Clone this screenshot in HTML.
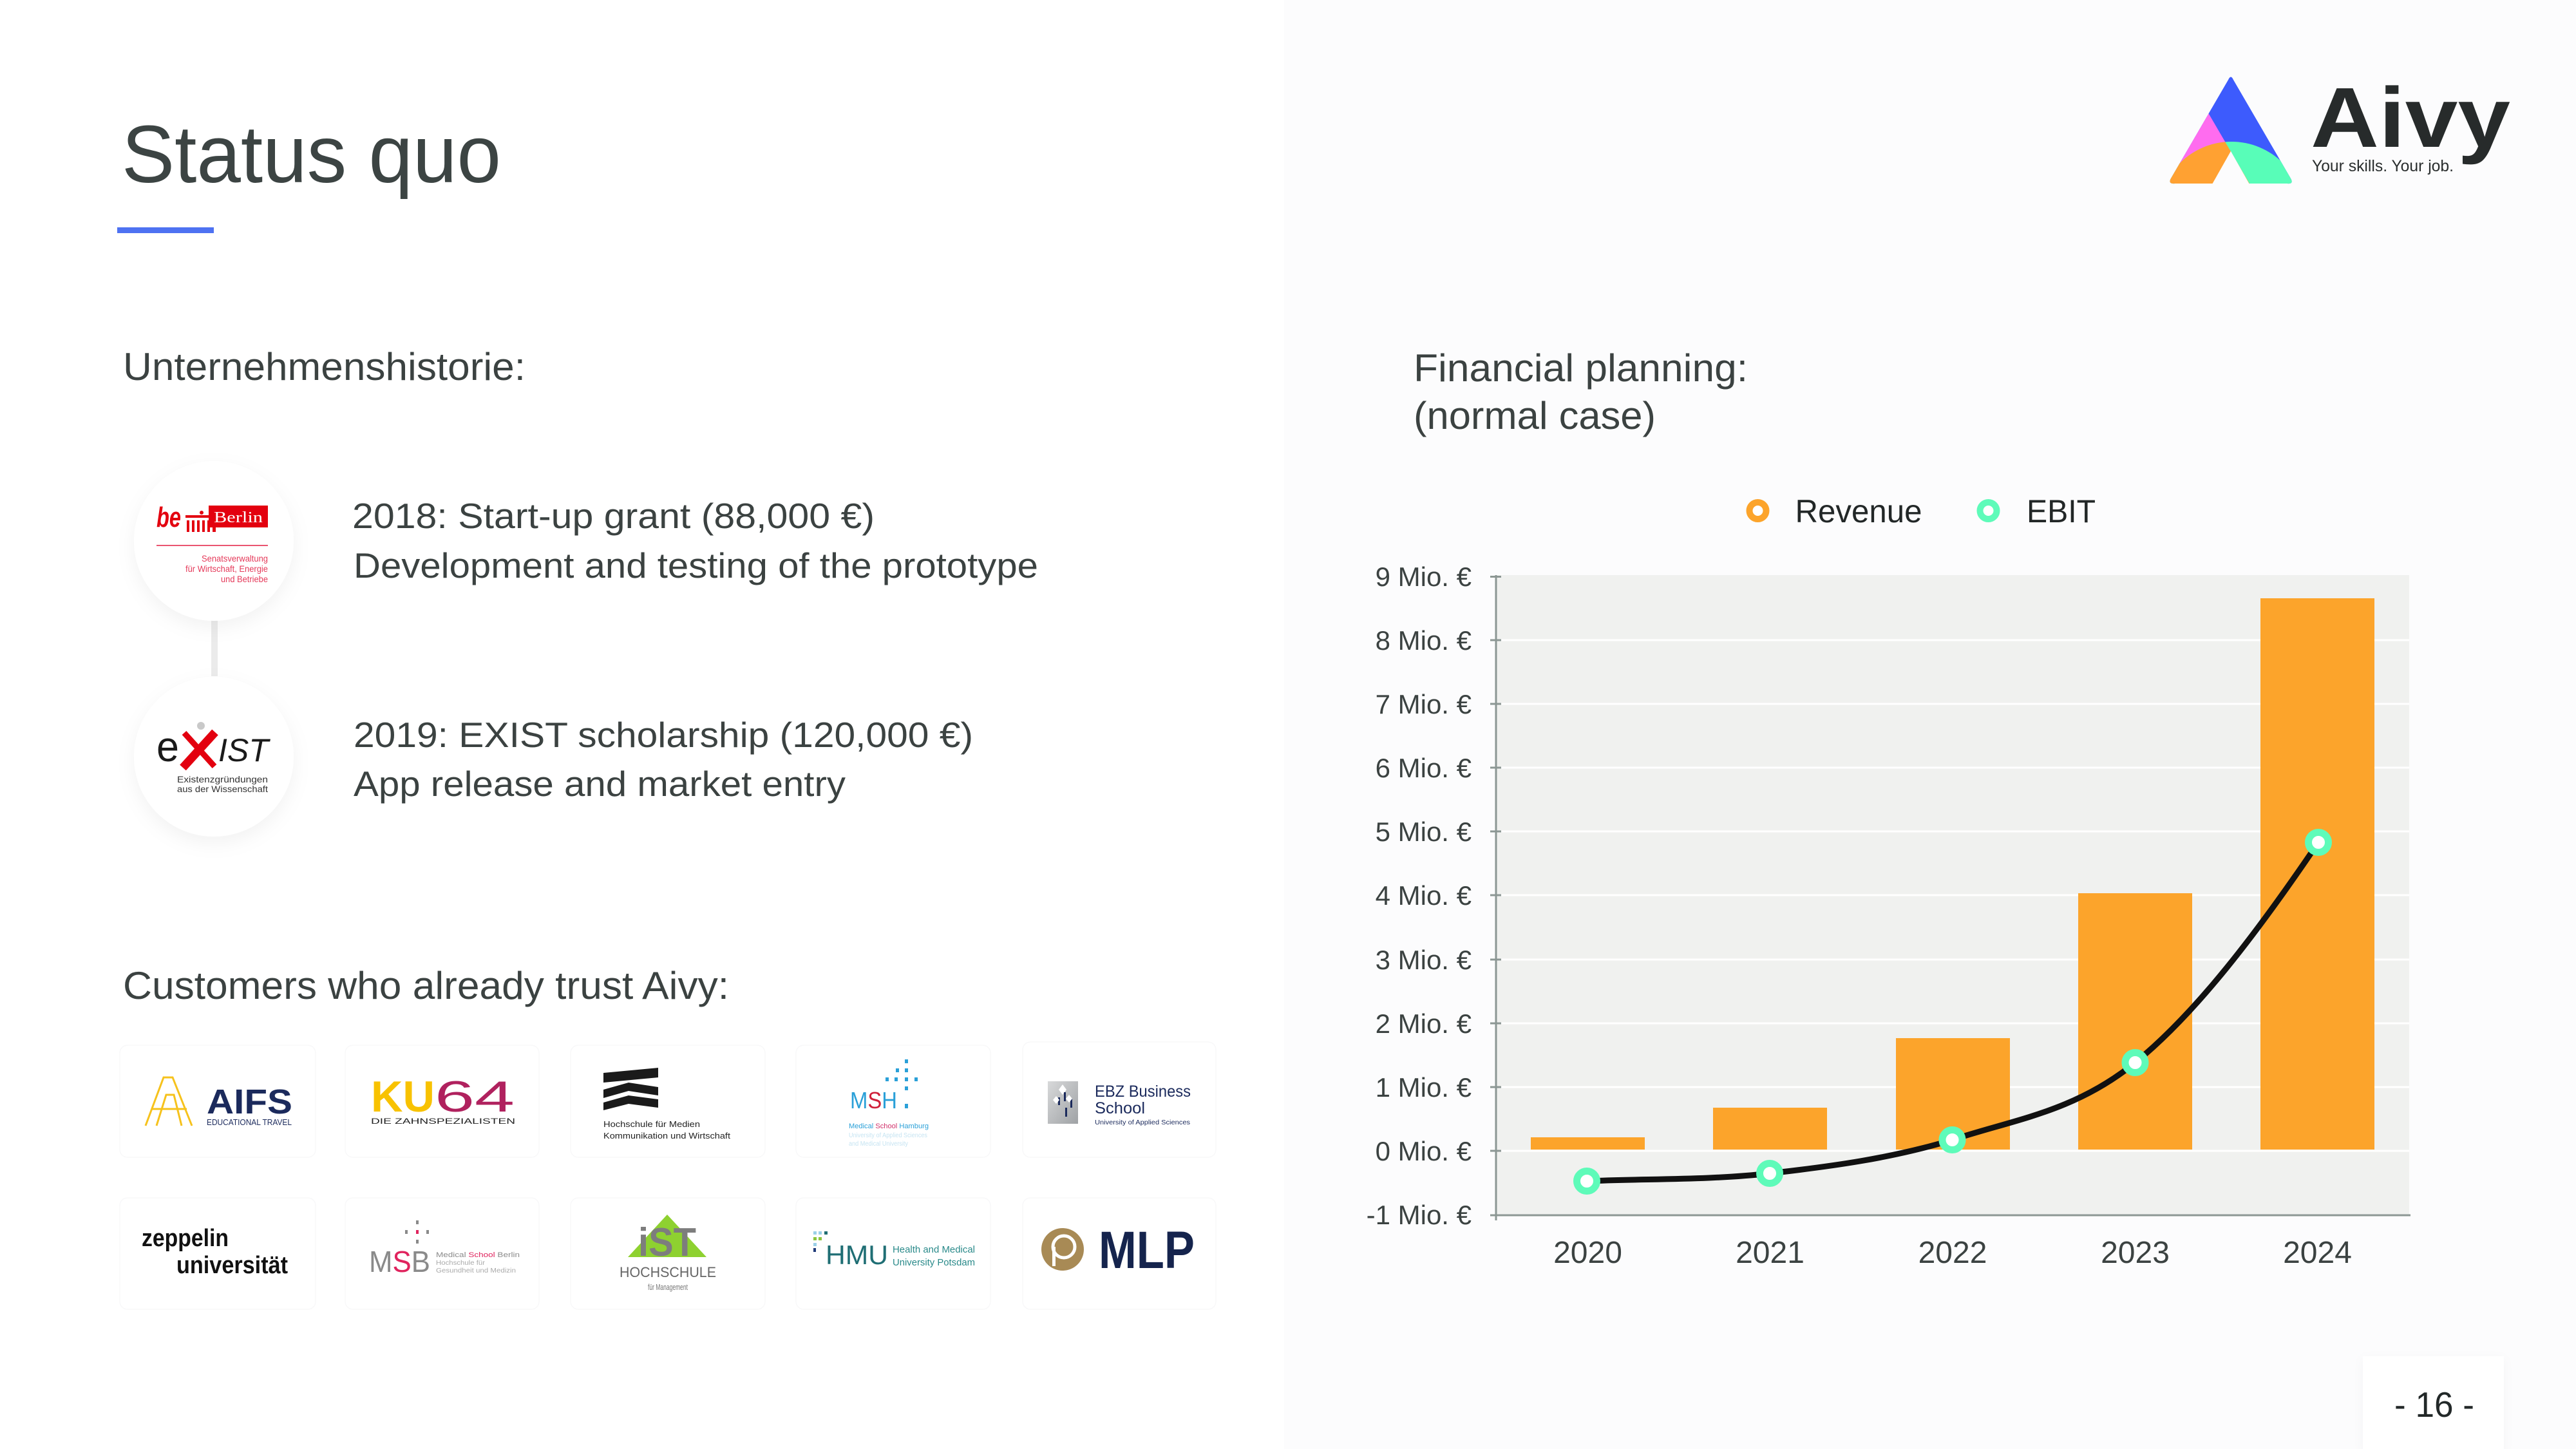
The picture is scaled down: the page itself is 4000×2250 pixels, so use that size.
<!DOCTYPE html>
<html>
<head>
<meta charset="utf-8">
<style>
  html,body{margin:0;padding:0;background:#ffffff;}
  svg{display:block;}
  text{font-family:"Liberation Sans", Arial, sans-serif;}
</style>
</head>
<body>
<svg width="4000" height="2250" viewBox="0 0 4000 2250" xmlns="http://www.w3.org/2000/svg">
  <defs>
    <filter id="sh" x="-30%" y="-30%" width="160%" height="170%">
      <feDropShadow dx="0" dy="10" stdDeviation="14" flood-color="#000" flood-opacity="0.05"/>
    </filter>
    <filter id="sh2" x="-10%" y="-10%" width="120%" height="130%">
      <feDropShadow dx="0" dy="4" stdDeviation="8" flood-color="#000" flood-opacity="0.03"/>
    </filter>
    <clipPath id="tri">
      <path d="M3460,124 Q3464,115 3468,124 L3557,277 Q3562,286 3552,285 L3377,285 Q3366,286 3371,277 Z"/>
    </clipPath>
    <clipPath id="leftL">
      <polygon points="3385,100 3493,285 3300,285 3300,100"/>
    </clipPath>
    <linearGradient id="ebzg" x1="0" y1="0" x2="1" y2="1">
      <stop offset="0" stop-color="#d8d9da"/><stop offset="1" stop-color="#9fa2a5"/>
    </linearGradient>
  </defs>

  <!-- backgrounds -->
  <rect x="0" y="0" width="4000" height="2250" fill="#ffffff"/>
  <rect x="1994" y="0" width="2006" height="2250" fill="#fcfcfd"/>

  <!-- Title -->
  <text x="189" y="283" font-size="126" fill="#3c4443" textLength="589" lengthAdjust="spacingAndGlyphs">Status quo</text>
  <rect x="182" y="353" width="150" height="9" fill="#4e72f2"/>

  <!-- Left headings -->
  <text x="191" y="590" font-size="60" fill="#3b4241" textLength="625" lengthAdjust="spacingAndGlyphs">Unternehmenshistorie:</text>

  <!-- History circles -->
  <rect x="328" y="955" width="10" height="95" fill="#ebebeb"/>
  <circle cx="332" cy="840" r="124" fill="#ffffff" filter="url(#sh)"/>
  <circle cx="332" cy="1175" r="124" fill="#ffffff" filter="url(#sh)"/>

  <!-- Berlin logo -->
  <text x="243" y="818" font-size="44" font-weight="bold" font-style="italic" fill="#e3000f" textLength="38" lengthAdjust="spacingAndGlyphs">be</text>
  <circle cx="313" cy="796" r="3" fill="#e3000f"/>
  <rect x="288" y="800" width="40" height="4" fill="#e3000f"/>
  <rect x="290" y="808" width="4" height="18" fill="#e3000f"/>
  <rect x="298" y="808" width="4" height="18" fill="#e3000f"/>
  <rect x="306" y="808" width="4" height="18" fill="#e3000f"/>
  <rect x="314" y="808" width="4" height="18" fill="#e3000f"/>
  <rect x="322" y="808" width="4" height="18" fill="#e3000f"/>
  <rect x="330" y="808" width="5" height="18" fill="#e3000f"/>
  <rect x="324" y="785" width="92" height="34" fill="#e3000f"/>
  <text x="332" y="811" font-size="24" fill="#ffffff" textLength="76" lengthAdjust="spacingAndGlyphs" style="font-family:'Liberation Serif',serif">Berlin</text>
  <rect x="243" y="846" width="173" height="2" fill="#ea5570"/>
  <text x="416" y="872" font-size="14" fill="#e53a5a" text-anchor="end" textLength="103" lengthAdjust="spacingAndGlyphs">Senatsverwaltung</text>
  <text x="416" y="888" font-size="14" fill="#e53a5a" text-anchor="end" textLength="128" lengthAdjust="spacingAndGlyphs">für Wirtschaft, Energie</text>
  <text x="416" y="904" font-size="14" fill="#e53a5a" text-anchor="end" textLength="73" lengthAdjust="spacingAndGlyphs">und Betriebe</text>

  <!-- EXIST logo -->
  <circle cx="312" cy="1127" r="6" fill="#c9c9c9"/>
  <text x="243" y="1182" font-size="66" fill="#1a1a1a" textLength="35" lengthAdjust="spacingAndGlyphs">e</text>
  <line x1="286" y1="1138" x2="333" y2="1190" stroke="#e3000f" stroke-width="9"/>
  <line x1="284" y1="1192" x2="334" y2="1137" stroke="#e3000f" stroke-width="13"/>
  <text x="339" y="1182" font-size="50" font-style="italic" fill="#1a1a1a" textLength="78" lengthAdjust="spacingAndGlyphs">IST</text>
  <text x="275" y="1215" font-size="14" fill="#333" textLength="141" lengthAdjust="spacingAndGlyphs">Existenzgründungen</text>
  <text x="275" y="1230" font-size="14" fill="#333" textLength="141" lengthAdjust="spacingAndGlyphs">aus der Wissenschaft</text>

  <!-- History text -->
  <text x="547" y="820" font-size="55" fill="#3b4241" textLength="811" lengthAdjust="spacingAndGlyphs">2018: Start-up grant (88,000 €)</text>
  <text x="549" y="897" font-size="55" fill="#3b4241" textLength="1063" lengthAdjust="spacingAndGlyphs">Development and testing of the prototype</text>
  <text x="549" y="1160" font-size="55" fill="#3b4241" textLength="962" lengthAdjust="spacingAndGlyphs">2019: EXIST scholarship (120,000 €)</text>
  <text x="549" y="1236" font-size="55" fill="#3b4241" textLength="764" lengthAdjust="spacingAndGlyphs">App release and market entry</text>

  <!-- Customers -->
  <text x="191" y="1551" font-size="60" fill="#3b4241" textLength="941" lengthAdjust="spacingAndGlyphs">Customers who already trust Aivy:</text>

  <!-- cards (very faint) -->
  <g fill="none" stroke="#f8f8f9" stroke-width="1.5">
    <rect x="186" y="1623" width="304" height="174" rx="12"/>
    <rect x="536" y="1623" width="301" height="174" rx="12"/>
    <rect x="886" y="1623" width="302" height="174" rx="12"/>
    <rect x="1236" y="1623" width="302" height="174" rx="12"/>
    <rect x="1588" y="1618" width="300" height="179" rx="12"/>
    <rect x="186" y="1860" width="304" height="173" rx="12"/>
    <rect x="536" y="1860" width="301" height="173" rx="12"/>
    <rect x="886" y="1860" width="302" height="173" rx="12"/>
    <rect x="1236" y="1860" width="302" height="173" rx="12"/>
    <rect x="1588" y="1860" width="300" height="173" rx="12"/>
  </g>

  <!-- AIFS -->
  <g fill="none" stroke="#f6c21c" stroke-width="3">
    <path d="M226,1748 L254,1673 L268,1673 L298,1748"/>
    <path d="M243,1748 L258,1700 L270,1700 L282,1748"/>
    <path d="M236,1722 L290,1722"/>
  </g>
  <text x="321" y="1729" font-size="54" font-weight="bold" fill="#1b2a5c" textLength="133" lengthAdjust="spacingAndGlyphs">AIFS</text>
  <text x="321" y="1747" font-size="13" fill="#1b2a5c" textLength="132" lengthAdjust="spacingAndGlyphs">EDUCATIONAL TRAVEL</text>

  <!-- KU64 -->
  <text x="576" y="1726" font-size="68" font-weight="bold" fill="#f8c200" textLength="99" lengthAdjust="spacingAndGlyphs">KU</text>
  <text x="675" y="1726" font-size="68" fill="#b0215e" textLength="124" lengthAdjust="spacingAndGlyphs">64</text>
  <text x="576" y="1745" font-size="12" fill="#222" textLength="224" lengthAdjust="spacingAndGlyphs">DIE  ZAHNSPEZIALISTEN</text>

  <!-- HMKW -->
  <g fill="#1a1a1a">
    <polygon points="937,1666 1022,1658 1022,1673 937,1681"/>
    <polygon points="937,1692 976,1681 1022,1688 1022,1701 976,1694 937,1705"/>
    <polygon points="937,1712 976,1701 1022,1707 1022,1720 976,1714 937,1724"/>
  </g>
  <text x="937" y="1750" font-size="13" fill="#222" textLength="150" lengthAdjust="spacingAndGlyphs">Hochschule für Medien</text>
  <text x="937" y="1768" font-size="13" fill="#222" textLength="197" lengthAdjust="spacingAndGlyphs">Kommunikation und Wirtschaft</text>

  <!-- MSH -->
  <g fill="#2aa0d8">
    <rect x="1405" y="1645" width="5" height="6"/>
    <rect x="1391" y="1659" width="5" height="6"/><rect x="1405" y="1659" width="5" height="6"/>
    <rect x="1375" y="1673" width="5" height="6"/><rect x="1389" y="1673" width="5" height="6"/><rect x="1405" y="1673" width="5" height="6"/><rect x="1420" y="1673" width="5" height="6"/>
    <rect x="1405" y="1687" width="5" height="6"/>
    <rect x="1405" y="1714" width="5" height="7"/>
  </g>
  <text x="1320" y="1721" font-size="36" fill="#2aa0d8" textLength="73" lengthAdjust="spacingAndGlyphs">M<tspan fill="#d0203a">S</tspan>H</text>
  <text x="1318" y="1752" font-size="11" fill="#2aa0d8" textLength="124" lengthAdjust="spacingAndGlyphs">Medical <tspan fill="#d0306a">School</tspan> Hamburg</text>
  <text x="1318" y="1766" font-size="10" fill="#c6e4f2" textLength="122" lengthAdjust="spacingAndGlyphs">University of Applied Sciences</text>
  <text x="1318" y="1779" font-size="10" fill="#c6e4f2" textLength="92" lengthAdjust="spacingAndGlyphs">and Medical University</text>

  <!-- EBZ -->
  <rect x="1627" y="1679" width="47" height="66" fill="url(#ebzg)"/>
  <g fill="#1b2a5c">
    <polygon points="1650,1684 1656,1692 1650,1700 1644,1692" fill="#ffffff"/>
    <rect x="1652" y="1696" width="3" height="14"/>
    <rect x="1643" y="1704" width="3" height="12"/>
    <rect x="1662" y="1706" width="3" height="14"/>
    <rect x="1654" y="1720" width="3" height="14"/>
    <polygon points="1640,1702 1645,1708 1640,1714 1635,1708" fill="#ffffff"/>
    <polygon points="1660,1700 1665,1706 1660,1712 1655,1706" fill="#ffffff"/>
  </g>
  <text x="1700" y="1703" font-size="25" fill="#1b2a5c" textLength="149" lengthAdjust="spacingAndGlyphs">EBZ Business</text>
  <text x="1700" y="1729" font-size="25" fill="#1b2a5c" textLength="78" lengthAdjust="spacingAndGlyphs">School</text>
  <text x="1700" y="1746" font-size="10" fill="#1b2a5c" textLength="148" lengthAdjust="spacingAndGlyphs">University of Applied Sciences</text>

  <!-- zeppelin -->
  <text x="220" y="1935" font-size="38" font-weight="bold" fill="#111" textLength="135" lengthAdjust="spacingAndGlyphs">zeppelin</text>
  <text x="274" y="1977" font-size="38" font-weight="bold" fill="#111" textLength="173" lengthAdjust="spacingAndGlyphs">universität</text>

  <!-- MSB -->
  <g fill="#8a8a8a">
    <rect x="646" y="1895" width="4" height="6"/>
    <rect x="629" y="1910" width="4" height="6"/>
    <rect x="646" y="1910" width="4" height="6" fill="#e0245e"/>
    <rect x="662" y="1910" width="4" height="6"/>
    <rect x="646" y="1925" width="4" height="6"/>
  </g>
  <text x="573" y="1975" font-size="46" fill="#8a8a8a" textLength="95" lengthAdjust="spacingAndGlyphs">M<tspan fill="#e0245e">S</tspan>B</text>
  <text x="677" y="1952" font-size="11" fill="#8a8a8a" textLength="130" lengthAdjust="spacingAndGlyphs">Medical <tspan fill="#e0245e">School</tspan> Berlin</text>
  <text x="677" y="1964" font-size="10" fill="#aaaaaa" textLength="76" lengthAdjust="spacingAndGlyphs">Hochschule für</text>
  <text x="677" y="1976" font-size="10" fill="#aaaaaa" textLength="124" lengthAdjust="spacingAndGlyphs">Gesundheit und Medizin</text>

  <!-- IST -->
  <polygon points="975,1952 1036,1886 1097,1952" fill="#8ed130"/>
  <text x="1036" y="1950" font-size="62" font-weight="bold" fill="#7d7d7d" text-anchor="middle" textLength="90" lengthAdjust="spacingAndGlyphs">iST</text>
  <text x="962" y="1983" font-size="22" fill="#666" textLength="150" lengthAdjust="spacingAndGlyphs">HOCHSCHULE</text>
  <text x="1037" y="2003" font-size="13" fill="#777" text-anchor="middle" textLength="62" lengthAdjust="spacingAndGlyphs">für Management</text>

  <!-- HMU -->
  <g>
    <rect x="1263" y="1912" width="5" height="5" fill="#9bd0e8"/><rect x="1271" y="1912" width="5" height="5" fill="#9bd0e8"/><rect x="1280" y="1912" width="5" height="5" fill="#1f6e74"/>
    <rect x="1263" y="1921" width="5" height="5" fill="#8cc63f"/><rect x="1271" y="1921" width="5" height="5" fill="#8cc63f"/>
    <rect x="1263" y="1930" width="5" height="5" fill="#9bd0e8"/>
    <rect x="1263" y="1938" width="4" height="6" fill="#1f3a78"/>
  </g>
  <text x="1282" y="1963" font-size="42" fill="#1f6e74" textLength="97" lengthAdjust="spacingAndGlyphs">HMU</text>
  <text x="1386" y="1945" font-size="15" fill="#2a8a8a" textLength="128" lengthAdjust="spacingAndGlyphs">Health and Medical</text>
  <text x="1386" y="1965" font-size="15" fill="#2a8a8a" textLength="128" lengthAdjust="spacingAndGlyphs">University Potsdam</text>

  <!-- MLP -->
  <circle cx="1650" cy="1940" r="33" fill="#a88a55"/>
  <circle cx="1652" cy="1936" r="17" fill="none" stroke="#ffffff" stroke-width="5"/>
  <rect x="1634" y="1936" width="5" height="30" fill="#ffffff"/>
  <text x="1706" y="1969" font-size="82" font-weight="bold" fill="#15244d" textLength="149" lengthAdjust="spacingAndGlyphs">MLP</text>

  <!-- Aivy logo -->
  <g clip-path="url(#tri)">
    <rect x="3360" y="110" width="210" height="180" fill="#3d5bfd"/>
    <g clip-path="url(#leftL)">
      <rect x="3300" y="100" width="200" height="190" fill="#ff6cef"/>
    </g>
    <circle cx="3465" cy="333" r="113" fill="#58fdb8"/>
    <g clip-path="url(#leftL)">
      <circle cx="3465" cy="333" r="113" fill="#ffa132"/>
    </g>
  </g>
  <polygon points="3435,286 3464,234.7 3493,286" fill="#fcfcfd"/>
  <text x="3588" y="228" font-size="132" font-weight="bold" fill="#272b2b" textLength="310" lengthAdjust="spacingAndGlyphs">Aivy</text>
  <text x="3590" y="266" font-size="25" fill="#2a2e2e" textLength="220" lengthAdjust="spacingAndGlyphs">Your skills. Your job.</text>

  <!-- Financial planning heading -->
  <text x="2195" y="592" font-size="60" fill="#3b4241" textLength="519" lengthAdjust="spacingAndGlyphs">Financial planning:</text>
  <text x="2195" y="666" font-size="60" fill="#3b4241" textLength="376" lengthAdjust="spacingAndGlyphs">(normal case)</text>

  <!-- Legend -->
  <circle cx="2729.5" cy="793" r="13" fill="#ffffff" stroke="#fca42b" stroke-width="10"/>
  <text x="2787.5" y="811" font-size="50" fill="#222727" textLength="197" lengthAdjust="spacingAndGlyphs">Revenue</text>
  <circle cx="3087.5" cy="793" r="13" fill="#ffffff" stroke="#5efbb9" stroke-width="10"/>
  <text x="3147" y="811" font-size="50" fill="#222727" textLength="107" lengthAdjust="spacingAndGlyphs">EBIT</text>

  <!-- Chart plot area -->
  <rect x="2323" y="893" width="1418" height="994" fill="#f0f1ef"/>
  <g stroke="#ffffff" stroke-width="3">
    <line x1="2325" y1="994" x2="3741" y2="994"/>
    <line x1="2325" y1="1093" x2="3741" y2="1093"/>
    <line x1="2325" y1="1192" x2="3741" y2="1192"/>
    <line x1="2325" y1="1291" x2="3741" y2="1291"/>
    <line x1="2325" y1="1390" x2="3741" y2="1390"/>
    <line x1="2325" y1="1490" x2="3741" y2="1490"/>
    <line x1="2325" y1="1589" x2="3741" y2="1589"/>
    <line x1="2325" y1="1688" x2="3741" y2="1688"/>
    <line x1="2325" y1="1787" x2="3741" y2="1787"/>
  </g>

  <!-- Bars -->
  <g fill="#fca42b">
    <rect x="2377" y="1766" width="177" height="19"/>
    <rect x="2660" y="1720" width="177" height="65"/>
    <rect x="2944" y="1612" width="177" height="173"/>
    <rect x="3227" y="1387" width="177" height="398"/>
    <rect x="3510" y="929" width="177" height="856"/>
  </g>

  <!-- Axes -->
  <g stroke="#8c9794" stroke-width="3" fill="none">
    <line x1="2323" y1="893" x2="2323" y2="1895"/>
    <line x1="2314" y1="1887" x2="3743" y2="1887"/>
    <line x1="2314" y1="895.5" x2="2331" y2="895.5"/>
    <line x1="2314" y1="994" x2="2331" y2="994"/>
    <line x1="2314" y1="1093" x2="2331" y2="1093"/>
    <line x1="2314" y1="1192" x2="2331" y2="1192"/>
    <line x1="2314" y1="1291" x2="2331" y2="1291"/>
    <line x1="2314" y1="1390" x2="2331" y2="1390"/>
    <line x1="2314" y1="1490" x2="2331" y2="1490"/>
    <line x1="2314" y1="1589" x2="2331" y2="1589"/>
    <line x1="2314" y1="1688" x2="2331" y2="1688"/>
    <line x1="2314" y1="1787" x2="2331" y2="1787"/>
  </g>

  <!-- Y labels -->
  <g font-size="42" fill="#3b4241" text-anchor="end">
    <text x="2285" y="910">9 Mio. €</text>
    <text x="2285" y="1009">8 Mio. €</text>
    <text x="2285" y="1108">7 Mio. €</text>
    <text x="2285" y="1207">6 Mio. €</text>
    <text x="2285" y="1306">5 Mio. €</text>
    <text x="2285" y="1405">4 Mio. €</text>
    <text x="2285" y="1505">3 Mio. €</text>
    <text x="2285" y="1604">2 Mio. €</text>
    <text x="2285" y="1703">1 Mio. €</text>
    <text x="2285" y="1802">0 Mio. €</text>
    <text x="2285" y="1901">-1 Mio. €</text>
  </g>

  <!-- X labels -->
  <g font-size="48" fill="#3b4241" text-anchor="middle">
    <text x="2465.5" y="1961">2020</text>
    <text x="2748.5" y="1961">2021</text>
    <text x="3032" y="1961">2022</text>
    <text x="3315.5" y="1961">2023</text>
    <text x="3598.5" y="1961">2024</text>
  </g>

  <!-- EBIT line -->
  <path d="M2464,1834 C2558.7,1830 2653.4,1832.7 2748,1822 C2842.6,1811.3 2936.9,1798.7 3031.5,1770 C3126.1,1738.5 3220.75,1727 3315.5,1650 C3410.25,1573 3505.2,1448 3600,1308"
        fill="none" stroke="#111111" stroke-width="9" stroke-linecap="round"/>
  <g fill="#ffffff" stroke="#5efbb9" stroke-width="11">
    <circle cx="2464" cy="1834" r="15.5"/>
    <circle cx="2748" cy="1822" r="15.5"/>
    <circle cx="3031.5" cy="1770" r="15.5"/>
    <circle cx="3315.5" cy="1650" r="15.5"/>
    <circle cx="3600" cy="1308" r="15.5"/>
  </g>

  <!-- Page number -->
  <rect x="3669" y="2106" width="219" height="150" fill="#ffffff" filter="url(#sh2)"/>
  <text x="3780" y="2200" font-size="55" fill="#222828" text-anchor="middle" textLength="124" lengthAdjust="spacingAndGlyphs">- 16 -</text>
</svg>
</body>
</html>
